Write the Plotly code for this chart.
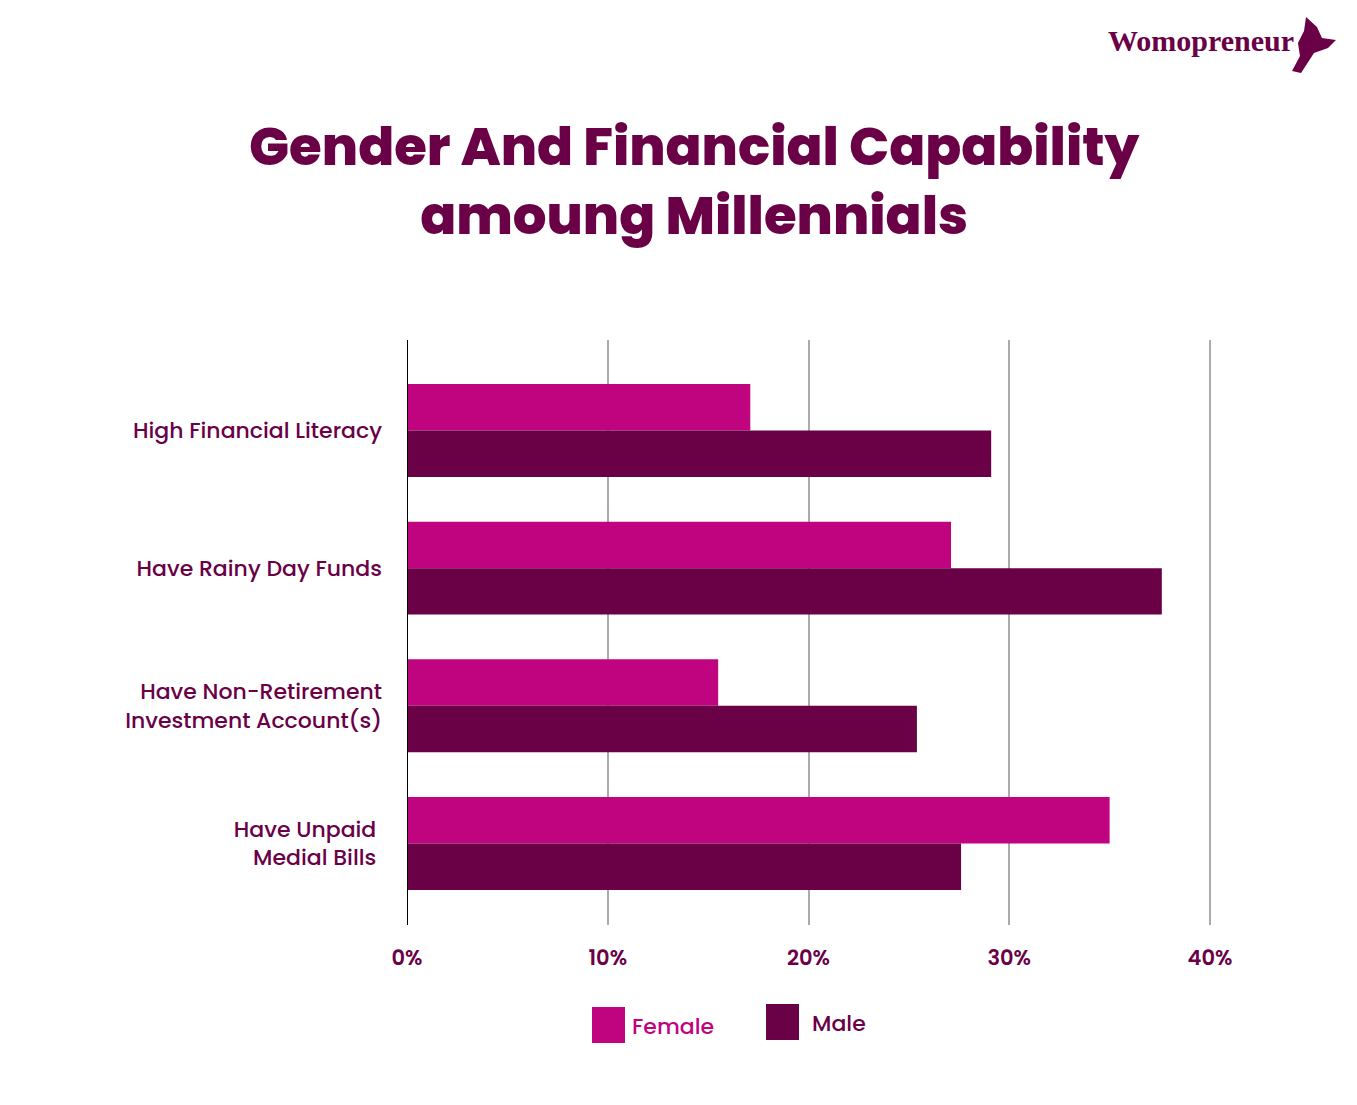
import plotly.graph_objects as go

categories = ["High Financial Literacy", "Have Rainy Day Funds",
              "Have Non-Retirement<br>Investment Account(s)", "Have Unpaid <br>Medial Bills "]
female = [17.1, 27.1, 15.5, 35.0]
male = [29.1, 37.6, 25.4, 27.6]
tick_vals = [0, 10, 20, 30, 40]
tick_text = ["0%", "10%", "20%", "30%", "40%"]

FEM = "#C0047F"
MAL = "#6A0046"
FONT = "Poppins, Inter, Open Sans, sans-serif"

W, H = 1357, 1105
L, R, T, B = 407, 145, 340, 180
pw, ph = W - L - R, H - T - B

def px(x, y):
    return (x - L) / pw, (H - B - y) / ph

fig = go.Figure()
fig.add_trace(go.Bar(y=categories, x=female, orientation="h", name="Female",
                     marker=dict(color=FEM, line=dict(width=0)), showlegend=False))
fig.add_trace(go.Bar(y=categories, x=male, orientation="h", name="Male",
                     marker=dict(color=MAL, line=dict(width=0)), showlegend=False))

fig.update_layout(
    width=W, height=H,
    margin=dict(l=L, r=R, t=T, b=B),
    paper_bgcolor="white", plot_bgcolor="white",
    barmode="group", bargap=0.325, bargroupgap=0,
    font=dict(family=FONT, color=MAL),
)
fig.update_xaxes(range=[0, 40.1], tickvals=tick_vals, ticktext=tick_text,
                 showgrid=True, gridcolor="#ABABAB", gridwidth=2,
                 zeroline=False, showline=False, ticks="",
                 ticklabelstandoff=18,
                 tickfont=dict(family=FONT, size=21, color=MAL, weight=600))
fig.update_yaxes(range=[3.592, -0.657], showgrid=False, zeroline=False,
                 showline=False, ticks="", ticklabelstandoff=24,
                 tickfont=dict(family=FONT, size=22, color=MAL, weight=500))

# zero line (axis line)
fig.add_shape(type="line", xref="x", yref="paper", x0=0, x1=0, y0=0, y1=1,
              line=dict(color="black", width=2), layer="above")

# title
tx, ty = px(694, 181)
fig.add_annotation(xref="paper", yref="paper", x=tx, y=ty, xanchor="center", yanchor="middle",
                   text="Gender And Financial Capability<br>amoung Millennials", showarrow=False,
                   font=dict(family=FONT, size=53, color=MAL, weight=800), align="center")

# logo text
lx, ly = px(1296, 40)
fig.add_annotation(xref="paper", yref="paper", x=lx, y=ly, xanchor="right", yanchor="middle",
                   text="Womopreneur", showarrow=False,
                   font=dict(family="Liberation Serif, serif", size=30, color=MAL, weight=700))
bird = [(1306, 17), (1317, 27), (1322, 38), (1336, 40), (1328, 48), (1314, 53),
        (1301, 73), (1292, 71), (1300, 56), (1298, 43), (1304, 31)]
path = "M " + " L ".join(f"{px(a, b)[0]:.4f},{px(a, b)[1]:.4f}" for a, b in bird) + " Z"
fig.add_shape(type="path", xref="paper", yref="paper", path=path,
              fillcolor=MAL, line=dict(width=0))

# legend
for (x0, y0, x1, y1, col, label, tx0, tyc) in [
        (592, 1007, 625, 1043, FEM, "Female", 630, 1026),
        (766, 1004, 799, 1040, MAL, "Male", 810, 1023)]:
    a0 = px(x0, y1); a1 = px(x1, y0)
    fig.add_shape(type="rect", xref="paper", yref="paper", x0=a0[0], y0=a0[1], x1=a1[0], y1=a1[1],
                  fillcolor=col, line=dict(width=0))
    p = px(tx0, tyc)
    fig.add_annotation(xref="paper", yref="paper", x=p[0], y=p[1], xanchor="left", yanchor="middle",
                       text=label, showarrow=False,
                       font=dict(family=FONT, size=22, color=col, weight=500))

fig.write_html("out.html")
